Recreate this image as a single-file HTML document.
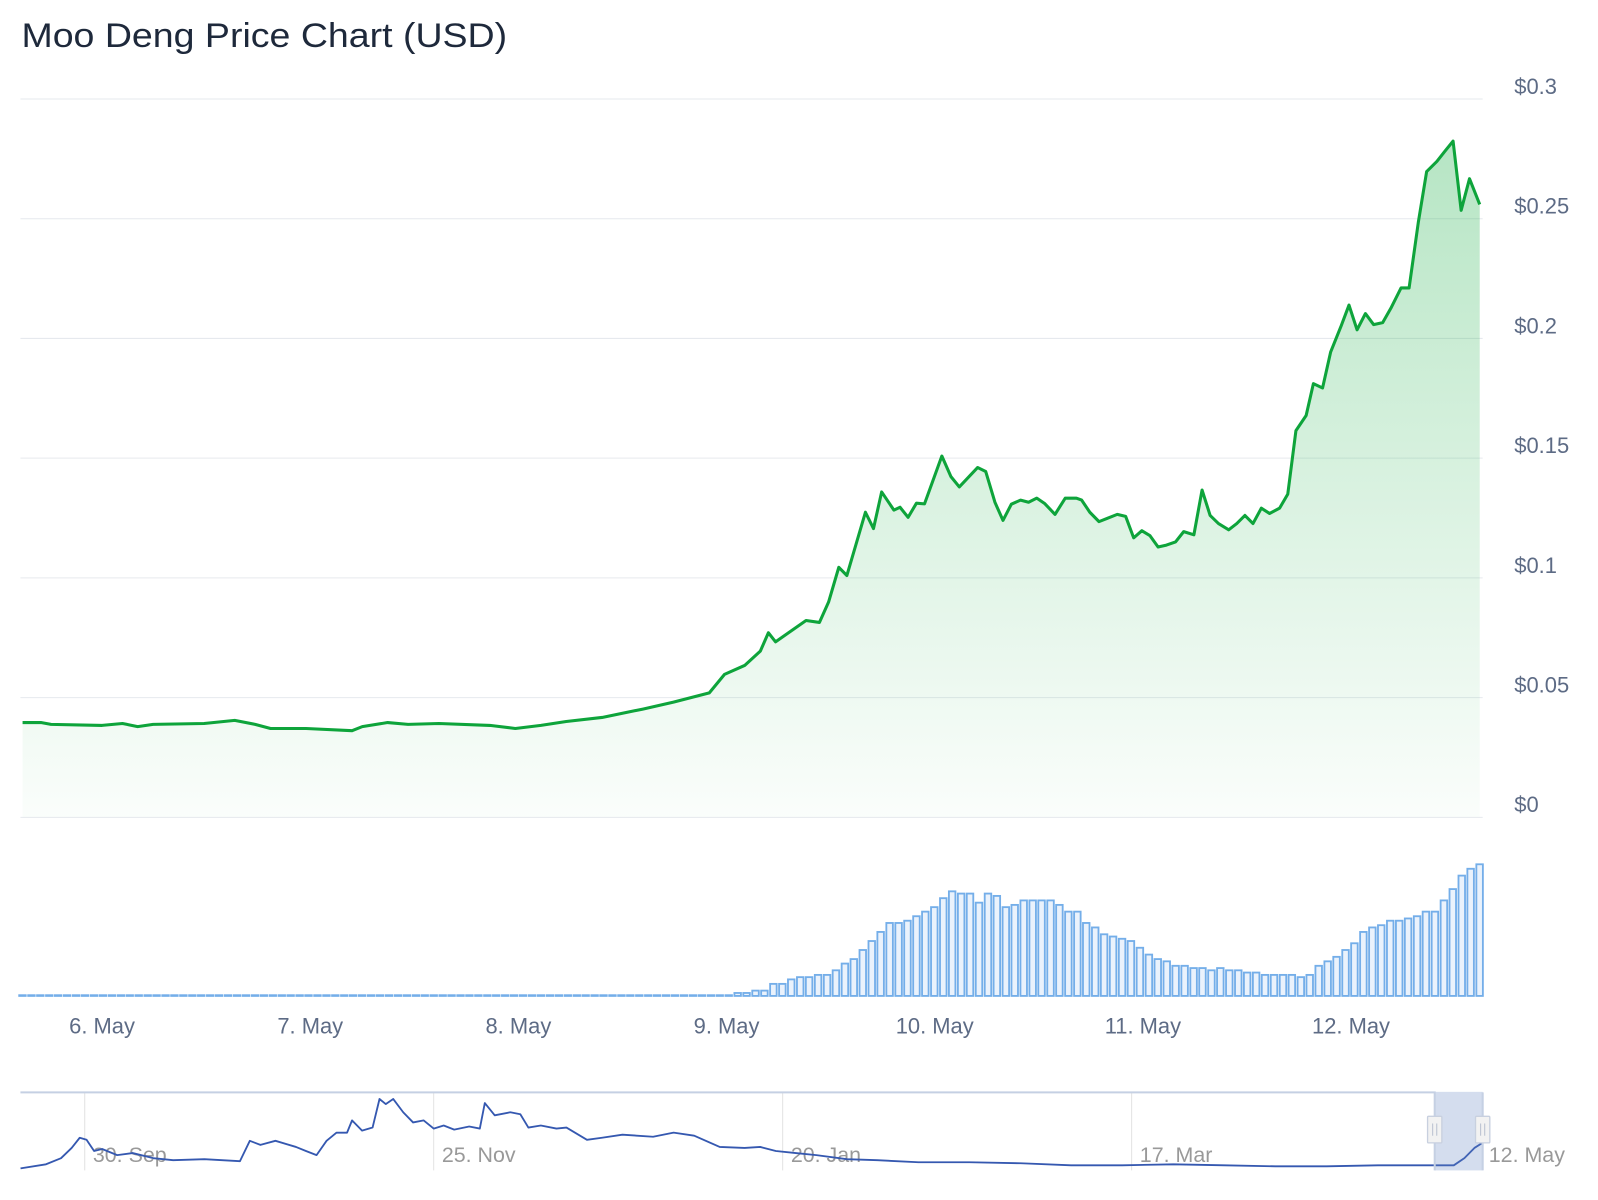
<!DOCTYPE html>
<html><head><meta charset="utf-8"><style>
html,body{margin:0;padding:0;background:#fff;}
svg{display:block;font-family:"Liberation Sans",sans-serif;}
</style></head><body>
<svg id="chart" width="1598" height="1200" viewBox="0 0 1566 1176" xmlns="http://www.w3.org/2000/svg">
<defs>
<linearGradient id="areaGrad" x1="0" y1="0" x2="0" y2="1">
<stop offset="0" stop-color="#22b14c" stop-opacity="0.33"/>
<stop offset="1" stop-color="#22b14c" stop-opacity="0.02"/>
</linearGradient>
</defs>
<text x="21" y="46" font-size="34" fill="#1e293b" textLength="476" lengthAdjust="spacingAndGlyphs">Moo Deng Price Chart (USD)</text>
<g id="grid"></g><g id="area"></g><g id="vol"></g><g id="xaxis"></g><g id="nav"></g>
</svg>
<script>
// ---- data ----
const priceDays = [-0.377,-0.289,-0.240,0.005,0.103,0.176,0.250,0.495,0.642,0.740,0.814,0.985,1.206,1.255,1.377,1.475,1.623,1.868,1.990,2.113,2.235,2.407,2.603,2.750,2.922,2.995,3.093,3.167,3.206,3.240,3.387,3.451,3.495,3.544,3.583,3.672,3.711,3.750,3.809,3.838,3.877,3.917,3.956,4.039,4.083,4.123,4.211,4.250,4.294,4.333,4.373,4.417,4.456,4.495,4.534,4.583,4.632,4.686,4.711,4.750,4.794,4.833,4.882,4.922,4.961,5.000,5.039,5.078,5.118,5.162,5.201,5.250,5.289,5.328,5.368,5.417,5.456,5.495,5.534,5.574,5.613,5.662,5.701,5.740,5.789,5.824,5.868,5.907,5.956,5.995,6.034,6.074,6.113,6.157,6.196,6.245,6.284,6.328,6.368,6.417,6.456,6.495,6.534,6.574,6.623];
const priceValues = [0.0396,0.0396,0.0388,0.0384,0.0392,0.0379,0.0388,0.0392,0.0405,0.0388,0.0371,0.0371,0.0362,0.0379,0.0396,0.0388,0.0392,0.0384,0.0371,0.0384,0.0400,0.0417,0.0452,0.0481,0.0520,0.0597,0.0635,0.0694,0.0771,0.0733,0.0822,0.0814,0.0899,0.1044,0.1010,0.1274,0.1206,0.1359,0.1283,0.1295,0.1253,0.1312,0.1309,0.1509,0.1423,0.1380,0.1461,0.1444,0.1316,0.1240,0.1308,0.1325,0.1316,0.1333,0.1310,0.1265,0.1333,0.1333,0.1325,0.1274,0.1235,0.1248,0.1265,0.1257,0.1167,0.1197,0.1176,0.1129,0.1137,0.1150,0.1193,0.1180,0.1367,0.1261,0.1227,0.1201,0.1227,0.1261,0.1227,0.1291,0.1269,0.1291,0.1350,0.1615,0.1678,0.1811,0.1793,0.1943,0.2049,0.2139,0.2036,0.2104,0.2058,0.2066,0.2126,0.2211,0.2211,0.2484,0.2697,0.2739,0.2782,0.2824,0.2535,0.2667,0.2560];
const volumeValues = [2,2,2,2,2,2,2,2,2,2,2,2,2,2,2,2,2,2,2,2,2,2,2,2,2,2,2,2,2,2,2,2,2,2,2,2,2,2,2,2,2,2,2,2,2,2,2,2,2,2,2,2,2,2,2,2,2,2,2,2,2,2,2,2,2,2,2,2,2,2,2,2,2,2,2,2,2,2,2,
 2,8,8,14,14,32,32,44,50,50,56,56,68,86,98,122,146,170,194,194,200,212,224,236,260,278,272,272,248,272,266,236,242,254,254,254,254,242,224,224,194,182,164,158,152,146,128,110,98,92,80,80,74,74,68,74,68,68,62,62,56,56,56,56,50,56,80,92,104,122,140,170,182,188,200,200,206,212,224,224,254,284,320,338,350];
const navDays = [-10.3,-6.2,-3.8,-2.1,-0.8,0.3,1.5,2.8,5.2,7.7,11.0,14.2,19.2,24.9,26.5,28.2,30.6,33.9,35.5,37.2,38.8,40.4,42.1,42.9,44.5,46.2,47.3,48.3,49.5,51.1,52.7,54.4,56.0,57.6,59.3,61.7,63.4,64.2,65.8,68.3,69.9,71.2,73.2,75.7,77.3,80.6,83.0,86.3,91.2,94.5,97.8,101.9,105.9,108.4,110.9,114.1,117.4,122.3,127.2,133.8,142.0,150.2,158.3,166.5,174.7,182.9,191.1,199.3,207.5,215.7,219.7,221.4,223.0,224.3];
const navValues = [0.02,0.06,0.12,0.22,0.32,0.30,0.19,0.21,0.15,0.17,0.12,0.10,0.11,0.09,0.29,0.25,0.29,0.23,0.19,0.15,0.29,0.37,0.37,0.49,0.39,0.42,0.70,0.65,0.70,0.57,0.47,0.49,0.41,0.44,0.40,0.43,0.41,0.66,0.54,0.57,0.55,0.42,0.44,0.41,0.42,0.30,0.32,0.35,0.33,0.37,0.34,0.23,0.22,0.23,0.19,0.17,0.15,0.11,0.10,0.08,0.08,0.07,0.05,0.05,0.06,0.05,0.04,0.04,0.05,0.05,0.05,0.12,0.22,0.27];
const yTicks = [0,0.05,0.1,0.15,0.2,0.25,0.3];
const yTickLabels = ["$0","$0.05","$0.1","$0.15","$0.2","$0.25","$0.3"];
const xTickDays = [0,1,2,3,4,5,6];
const xTickLabels = ["6. May","7. May","8. May","9. May","10. May","11. May","12. May"];
const navTickDays = [0,56,112,168,224];
const navTickLabels = ["30. Sep","25. Nov","20. Jan","17. Mar","12. May"];

// ---- axes ----
const PL=20, PR=1453, Y0=801, YTOP=97;
const xDay = d => 99 + d*204;
const yPrice = p => Y0 - (p/0.3)*(Y0-YTOP);
const VBASE=976, VH=129, VMAX=Math.max(...volumeValues);
const yVol = v => VBASE - v/VMAX*VH;
const xNav = d => 83 + d*6.107;
const yNav = v => 1147 - v*100;
const NS="http://www.w3.org/2000/svg";
function mk(tag, parent, attrs){const e=document.createElementNS(NS,tag);for(const k in attrs)e.setAttribute(k,attrs[k]);parent.appendChild(e);return e;}

const grid=document.getElementById('grid');
yTicks.forEach((t,i)=>{
  const y=yPrice(t);
  const l=mk('line',grid,{x1:PL,x2:PR,y1:y,y2:y,stroke:'#e6e9ee','stroke-width':1});
  
  
  const tx=mk('text',grid,{x:1484,y:y-5,'font-size':21.5,fill:'#5d6b85'});
  tx.textContent=yTickLabels[i];
  
  
});

// price area + line
const area=document.getElementById('area');
let pts=priceDays.map((d,i)=>[xDay(d),yPrice(priceValues[i])]);
let dLine='M'+pts.map(p=>p[0].toFixed(1)+','+p[1].toFixed(1)).join('L');
const ap=mk('path',area,{d:dLine+'L'+pts[pts.length-1][0]+','+Y0+'L'+pts[0][0]+','+Y0+'Z',fill:'url(#areaGrad)'});


const lp=mk('path',area,{d:dLine,fill:'none',stroke:'#0ea43b','stroke-width':3,'stroke-linejoin':'round'});



// volume bars
const vol=document.getElementById('vol');
const n=volumeValues.length, step=(1450-22)/(n-1);
volumeValues.forEach((v,i)=>{
  const cx=22+i*step, y=yVol(v);
  const r=mk('rect',vol,{x:(cx-3.2).toFixed(1),y:y.toFixed(1),width:6.4,height:(VBASE-y).toFixed(1),fill:'#eaf2fc',stroke:'#74aee9','stroke-width':1.8});
  
  
});

// x axis
const xa=document.getElementById('xaxis');
xTickDays.forEach((d,i)=>{
  const t=mk('text',xa,{x:xDay(d)+1,y:1013,'font-size':21.5,fill:'#5d6b85','text-anchor':'middle'});
  t.textContent=xTickLabels[i];
  
  
});

// navigator
const nav=document.getElementById('nav');
navTickDays.forEach((d,i)=>{
  const x=xNav(d);
  if(i<navTickDays.length-1){
    const g=mk('line',nav,{x1:x,x2:x,y1:1070,y2:1147,stroke:'#e3e3e3','stroke-width':1});
    
    
  }
  const t=mk('text',nav,{x:x+8,y:1139,'font-size':21,fill:'#999999'});
  t.textContent=navTickLabels[i];
  
  
});
const np='M'+navDays.map((d,i)=>xNav(d).toFixed(1)+','+yNav(navValues[i]).toFixed(1)).join('L');
const nl=mk('path',nav,{d:np,fill:'none',stroke:'#3558b0','stroke-width':1.8,'stroke-linejoin':'round'});


const mask=mk('rect',nav,{x:1406,y:1070,width:47,height:77,fill:'rgba(102,133,194,0.28)'});


const outl=mk('path',nav,{d:'M20,1070.5H1406V1147M1453,1147V1070.5H1453',fill:'none',stroke:'#c5d0e3','stroke-width':2});


[1406,1453].forEach((hx,i)=>{
  const h=mk('g',nav,{});
  
  
  mk('rect',h,{x:hx-7,y:1094,width:14,height:26,rx:1,fill:'#f2f2f2',stroke:'#c8d0df','stroke-width':1.3});
  mk('line',h,{x1:hx-2,x2:hx-2,y1:1101,y2:1113,stroke:'#b8c0cf','stroke-width':1});
  mk('line',h,{x1:hx+2,x2:hx+2,y1:1101,y2:1113,stroke:'#b8c0cf','stroke-width':1});
});
</script>
</body></html>
